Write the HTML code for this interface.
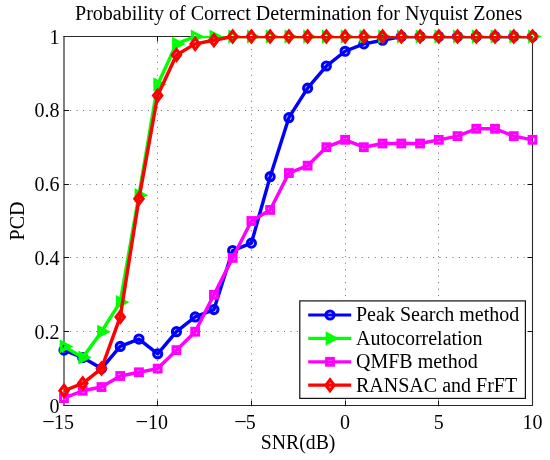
<!DOCTYPE html>
<html><head><meta charset="utf-8"><title>PCD plot</title><style>html,body{margin:0;padding:0;background:#fff}body{width:550px;height:460px;overflow:hidden}</style></head><body>
<svg width="550" height="460" viewBox="0 0 550 460" style="display:block">
<rect width="550" height="460" fill="#fff"/>
<g stroke="#6a6a6a" stroke-width="1" stroke-dasharray="1 5.478" fill="none"><line x1="157.5" y1="406.2" x2="157.5" y2="36.5"/><line x1="251.5" y1="406.2" x2="251.5" y2="36.5"/><line x1="345.5" y1="406.2" x2="345.5" y2="36.5"/><line x1="438.5" y1="406.2" x2="438.5" y2="36.5"/><line x1="63.7" y1="331.5" x2="532.5" y2="331.5"/><line x1="63.7" y1="257.5" x2="532.5" y2="257.5"/><line x1="63.7" y1="184.5" x2="532.5" y2="184.5"/><line x1="63.7" y1="110.5" x2="532.5" y2="110.5"/></g>
<g stroke="#2a2a2a" stroke-width="1.1" stroke-linecap="square"><line x1="64.0" y1="36.5" x2="64.0" y2="405.5" stroke-width="1.2"/><line x1="64.0" y1="36.5" x2="532.5" y2="36.5"/><line x1="532.5" y1="36.5" x2="532.5" y2="405.5"/><line x1="64.0" y1="405.5" x2="532.5" y2="405.5"/></g>
<g stroke="#111" stroke-width="1"><line x1="157.5" y1="405.5" x2="157.5" y2="400.5"/><line x1="157.5" y1="36.5" x2="157.5" y2="41.5"/><line x1="251.5" y1="405.5" x2="251.5" y2="400.5"/><line x1="251.5" y1="36.5" x2="251.5" y2="41.5"/><line x1="345.5" y1="405.5" x2="345.5" y2="400.5"/><line x1="345.5" y1="36.5" x2="345.5" y2="41.5"/><line x1="438.5" y1="405.5" x2="438.5" y2="400.5"/><line x1="438.5" y1="36.5" x2="438.5" y2="41.5"/><line x1="64.0" y1="331.5" x2="69.0" y2="331.5"/><line x1="532.5" y1="331.5" x2="527.5" y2="331.5"/><line x1="64.0" y1="257.5" x2="69.0" y2="257.5"/><line x1="532.5" y1="257.5" x2="527.5" y2="257.5"/><line x1="64.0" y1="184.5" x2="69.0" y2="184.5"/><line x1="532.5" y1="184.5" x2="527.5" y2="184.5"/><line x1="64.0" y1="110.5" x2="69.0" y2="110.5"/><line x1="532.5" y1="110.5" x2="527.5" y2="110.5"/></g>
<text x="42.20" y="428.5" font-family="'Liberation Serif', serif" font-size="22.4" fill="#000">−</text>
<text x="74.00" y="428.5" font-family="'Liberation Serif', serif" font-size="20" text-anchor="end" fill="#000">15</text>
<text x="135.40" y="428.5" font-family="'Liberation Serif', serif" font-size="22.4" fill="#000">−</text>
<text x="168.00" y="428.5" font-family="'Liberation Serif', serif" font-size="20" text-anchor="end" fill="#000">10</text>
<text x="234.20" y="428.5" font-family="'Liberation Serif', serif" font-size="22.4" fill="#000">−</text>
<text x="255.80" y="428.5" font-family="'Liberation Serif', serif" font-size="20" text-anchor="end" fill="#000">5</text>
<text x="345.10" y="428.5" font-family="'Liberation Serif', serif" font-size="20" text-anchor="middle" fill="#000">0</text>
<text x="438.80" y="428.5" font-family="'Liberation Serif', serif" font-size="20" text-anchor="middle" fill="#000">5</text>
<text x="532.50" y="428.5" font-family="'Liberation Serif', serif" font-size="20" text-anchor="middle" fill="#000">10</text>
<text x="59.5" y="412.50" font-family="'Liberation Serif', serif" font-size="20" text-anchor="end" fill="#000">0</text>
<text x="59.5" y="338.70" font-family="'Liberation Serif', serif" font-size="20" text-anchor="end" fill="#000">0.2</text>
<text x="59.5" y="264.90" font-family="'Liberation Serif', serif" font-size="20" text-anchor="end" fill="#000">0.4</text>
<text x="59.5" y="191.10" font-family="'Liberation Serif', serif" font-size="20" text-anchor="end" fill="#000">0.6</text>
<text x="59.5" y="117.30" font-family="'Liberation Serif', serif" font-size="20" text-anchor="end" fill="#000">0.8</text>
<text x="59.5" y="43.50" font-family="'Liberation Serif', serif" font-size="20" text-anchor="end" fill="#000">1</text>
<text x="75" y="20.4" font-family="'Liberation Serif', serif" font-size="20" textLength="447.3" lengthAdjust="spacingAndGlyphs" fill="#000">Probability of Correct Determination for Nyquist Zones</text>
<text x="260.8" y="449" font-family="'Liberation Serif', serif" font-size="20" textLength="74.6" lengthAdjust="spacingAndGlyphs" fill="#000">SNR(dB)</text>
<text transform="translate(24,221) rotate(-90)" font-family="'Liberation Serif', serif" font-size="20" text-anchor="middle" fill="#000">PCD</text>
<defs><clipPath id="ax"><rect x="63.5" y="36.0" width="469.5" height="370.0"/></clipPath></defs>
<polyline points="64.00,350.15 82.74,357.53 101.48,368.60 120.22,346.46 138.96,339.08 157.70,353.84 176.44,331.70 195.18,316.94 213.92,309.56 232.66,250.52 251.40,243.14 270.14,176.72 288.88,117.68 307.62,88.16 326.36,66.02 345.10,51.26 363.84,43.88 382.58,40.19 401.32,36.50 420.06,36.50 438.80,36.50 457.54,36.50 476.28,36.50 495.02,36.50 513.76,36.50 532.50,36.50" fill="none" stroke="#0000ff" stroke-width="3.45" stroke-linejoin="round" clip-path="url(#ax)"/>
<circle cx="64.00" cy="350.15" r="4.05" fill="none" stroke="#0000ff" stroke-width="3.1"/><circle cx="82.74" cy="357.53" r="4.05" fill="none" stroke="#0000ff" stroke-width="3.1"/><circle cx="101.48" cy="368.60" r="4.05" fill="none" stroke="#0000ff" stroke-width="3.1"/><circle cx="120.22" cy="346.46" r="4.05" fill="none" stroke="#0000ff" stroke-width="3.1"/><circle cx="138.96" cy="339.08" r="4.05" fill="none" stroke="#0000ff" stroke-width="3.1"/><circle cx="157.70" cy="353.84" r="4.05" fill="none" stroke="#0000ff" stroke-width="3.1"/><circle cx="176.44" cy="331.70" r="4.05" fill="none" stroke="#0000ff" stroke-width="3.1"/><circle cx="195.18" cy="316.94" r="4.05" fill="none" stroke="#0000ff" stroke-width="3.1"/><circle cx="213.92" cy="309.56" r="4.05" fill="none" stroke="#0000ff" stroke-width="3.1"/><circle cx="232.66" cy="250.52" r="4.05" fill="none" stroke="#0000ff" stroke-width="3.1"/><circle cx="251.40" cy="243.14" r="4.05" fill="none" stroke="#0000ff" stroke-width="3.1"/><circle cx="270.14" cy="176.72" r="4.05" fill="none" stroke="#0000ff" stroke-width="3.1"/><circle cx="288.88" cy="117.68" r="4.05" fill="none" stroke="#0000ff" stroke-width="3.1"/><circle cx="307.62" cy="88.16" r="4.05" fill="none" stroke="#0000ff" stroke-width="3.1"/><circle cx="326.36" cy="66.02" r="4.05" fill="none" stroke="#0000ff" stroke-width="3.1"/><circle cx="345.10" cy="51.26" r="4.05" fill="none" stroke="#0000ff" stroke-width="3.1"/><circle cx="363.84" cy="43.88" r="4.05" fill="none" stroke="#0000ff" stroke-width="3.1"/><circle cx="382.58" cy="40.19" r="4.05" fill="none" stroke="#0000ff" stroke-width="3.1"/><circle cx="401.32" cy="36.50" r="4.05" fill="none" stroke="#0000ff" stroke-width="3.1"/><circle cx="420.06" cy="36.50" r="4.05" fill="none" stroke="#0000ff" stroke-width="3.1"/><circle cx="438.80" cy="36.50" r="4.05" fill="none" stroke="#0000ff" stroke-width="3.1"/><circle cx="457.54" cy="36.50" r="4.05" fill="none" stroke="#0000ff" stroke-width="3.1"/><circle cx="476.28" cy="36.50" r="4.05" fill="none" stroke="#0000ff" stroke-width="3.1"/><circle cx="495.02" cy="36.50" r="4.05" fill="none" stroke="#0000ff" stroke-width="3.1"/><circle cx="513.76" cy="36.50" r="4.05" fill="none" stroke="#0000ff" stroke-width="3.1"/><circle cx="532.50" cy="36.50" r="4.05" fill="none" stroke="#0000ff" stroke-width="3.1"/>
<polyline points="64.00,346.46 82.74,357.53 101.48,331.70 120.22,302.18 138.96,195.17 157.70,84.47 176.44,43.88 195.18,36.50 213.92,36.50 232.66,36.50 251.40,36.50 270.14,36.50 288.88,36.50 307.62,36.50 326.36,36.50 345.10,36.50 363.84,36.50 382.58,36.50 401.32,36.50 420.06,36.50 438.80,36.50 457.54,36.50 476.28,36.50 495.02,36.50 513.76,36.50 532.50,36.50" fill="none" stroke="#00ff00" stroke-width="3.45" stroke-linejoin="round" clip-path="url(#ax)"/>
<polygon points="61.20,341.96 69.80,346.46 61.20,350.96" fill="none" stroke="#00ff00" stroke-width="3.1" stroke-linejoin="miter"/><polygon points="79.94,353.03 88.54,357.53 79.94,362.03" fill="none" stroke="#00ff00" stroke-width="3.1" stroke-linejoin="miter"/><polygon points="98.68,327.20 107.28,331.70 98.68,336.20" fill="none" stroke="#00ff00" stroke-width="3.1" stroke-linejoin="miter"/><polygon points="117.42,297.68 126.02,302.18 117.42,306.68" fill="none" stroke="#00ff00" stroke-width="3.1" stroke-linejoin="miter"/><polygon points="136.16,190.67 144.76,195.17 136.16,199.67" fill="none" stroke="#00ff00" stroke-width="3.1" stroke-linejoin="miter"/><polygon points="154.90,79.97 163.50,84.47 154.90,88.97" fill="none" stroke="#00ff00" stroke-width="3.1" stroke-linejoin="miter"/><polygon points="173.64,39.38 182.24,43.88 173.64,48.38" fill="none" stroke="#00ff00" stroke-width="3.1" stroke-linejoin="miter"/><polygon points="192.38,32.00 200.98,36.50 192.38,41.00" fill="none" stroke="#00ff00" stroke-width="3.1" stroke-linejoin="miter"/><polygon points="211.12,32.00 219.72,36.50 211.12,41.00" fill="none" stroke="#00ff00" stroke-width="3.1" stroke-linejoin="miter"/><polygon points="229.86,32.00 238.46,36.50 229.86,41.00" fill="none" stroke="#00ff00" stroke-width="3.1" stroke-linejoin="miter"/><polygon points="248.60,32.00 257.20,36.50 248.60,41.00" fill="none" stroke="#00ff00" stroke-width="3.1" stroke-linejoin="miter"/><polygon points="267.34,32.00 275.94,36.50 267.34,41.00" fill="none" stroke="#00ff00" stroke-width="3.1" stroke-linejoin="miter"/><polygon points="286.08,32.00 294.68,36.50 286.08,41.00" fill="none" stroke="#00ff00" stroke-width="3.1" stroke-linejoin="miter"/><polygon points="304.82,32.00 313.42,36.50 304.82,41.00" fill="none" stroke="#00ff00" stroke-width="3.1" stroke-linejoin="miter"/><polygon points="323.56,32.00 332.16,36.50 323.56,41.00" fill="none" stroke="#00ff00" stroke-width="3.1" stroke-linejoin="miter"/><polygon points="342.30,32.00 350.90,36.50 342.30,41.00" fill="none" stroke="#00ff00" stroke-width="3.1" stroke-linejoin="miter"/><polygon points="361.04,32.00 369.64,36.50 361.04,41.00" fill="none" stroke="#00ff00" stroke-width="3.1" stroke-linejoin="miter"/><polygon points="379.78,32.00 388.38,36.50 379.78,41.00" fill="none" stroke="#00ff00" stroke-width="3.1" stroke-linejoin="miter"/><polygon points="398.52,32.00 407.12,36.50 398.52,41.00" fill="none" stroke="#00ff00" stroke-width="3.1" stroke-linejoin="miter"/><polygon points="417.26,32.00 425.86,36.50 417.26,41.00" fill="none" stroke="#00ff00" stroke-width="3.1" stroke-linejoin="miter"/><polygon points="436.00,32.00 444.60,36.50 436.00,41.00" fill="none" stroke="#00ff00" stroke-width="3.1" stroke-linejoin="miter"/><polygon points="454.74,32.00 463.34,36.50 454.74,41.00" fill="none" stroke="#00ff00" stroke-width="3.1" stroke-linejoin="miter"/><polygon points="473.48,32.00 482.08,36.50 473.48,41.00" fill="none" stroke="#00ff00" stroke-width="3.1" stroke-linejoin="miter"/><polygon points="492.22,32.00 500.82,36.50 492.22,41.00" fill="none" stroke="#00ff00" stroke-width="3.1" stroke-linejoin="miter"/><polygon points="510.96,32.00 519.56,36.50 510.96,41.00" fill="none" stroke="#00ff00" stroke-width="3.1" stroke-linejoin="miter"/><polygon points="529.70,32.00 538.30,36.50 529.70,41.00" fill="none" stroke="#00ff00" stroke-width="3.1" stroke-linejoin="miter"/>
<polyline points="64.00,398.12 82.74,390.74 101.48,387.05 120.22,375.98 138.96,372.29 157.70,368.60 176.44,350.15 195.18,331.70 213.92,294.80 232.66,257.90 251.40,221.00 270.14,209.93 288.88,173.03 307.62,165.65 326.36,147.20 345.10,139.82 363.84,147.20 382.58,143.51 401.32,143.51 420.06,143.51 438.80,139.82 457.54,136.13 476.28,128.75 495.02,128.75 513.76,136.13 532.50,139.82" fill="none" stroke="#ff00ff" stroke-width="3.45" stroke-linejoin="round" clip-path="url(#ax)"/>
<rect x="60.65" y="394.77" width="6.7" height="6.7" fill="none" stroke="#ff00ff" stroke-width="3.1"/><rect x="79.39" y="387.39" width="6.7" height="6.7" fill="none" stroke="#ff00ff" stroke-width="3.1"/><rect x="98.13" y="383.70" width="6.7" height="6.7" fill="none" stroke="#ff00ff" stroke-width="3.1"/><rect x="116.87" y="372.63" width="6.7" height="6.7" fill="none" stroke="#ff00ff" stroke-width="3.1"/><rect x="135.61" y="368.94" width="6.7" height="6.7" fill="none" stroke="#ff00ff" stroke-width="3.1"/><rect x="154.35" y="365.25" width="6.7" height="6.7" fill="none" stroke="#ff00ff" stroke-width="3.1"/><rect x="173.09" y="346.80" width="6.7" height="6.7" fill="none" stroke="#ff00ff" stroke-width="3.1"/><rect x="191.83" y="328.35" width="6.7" height="6.7" fill="none" stroke="#ff00ff" stroke-width="3.1"/><rect x="210.57" y="291.45" width="6.7" height="6.7" fill="none" stroke="#ff00ff" stroke-width="3.1"/><rect x="229.31" y="254.55" width="6.7" height="6.7" fill="none" stroke="#ff00ff" stroke-width="3.1"/><rect x="248.05" y="217.65" width="6.7" height="6.7" fill="none" stroke="#ff00ff" stroke-width="3.1"/><rect x="266.79" y="206.58" width="6.7" height="6.7" fill="none" stroke="#ff00ff" stroke-width="3.1"/><rect x="285.53" y="169.68" width="6.7" height="6.7" fill="none" stroke="#ff00ff" stroke-width="3.1"/><rect x="304.27" y="162.30" width="6.7" height="6.7" fill="none" stroke="#ff00ff" stroke-width="3.1"/><rect x="323.01" y="143.85" width="6.7" height="6.7" fill="none" stroke="#ff00ff" stroke-width="3.1"/><rect x="341.75" y="136.47" width="6.7" height="6.7" fill="none" stroke="#ff00ff" stroke-width="3.1"/><rect x="360.49" y="143.85" width="6.7" height="6.7" fill="none" stroke="#ff00ff" stroke-width="3.1"/><rect x="379.23" y="140.16" width="6.7" height="6.7" fill="none" stroke="#ff00ff" stroke-width="3.1"/><rect x="397.97" y="140.16" width="6.7" height="6.7" fill="none" stroke="#ff00ff" stroke-width="3.1"/><rect x="416.71" y="140.16" width="6.7" height="6.7" fill="none" stroke="#ff00ff" stroke-width="3.1"/><rect x="435.45" y="136.47" width="6.7" height="6.7" fill="none" stroke="#ff00ff" stroke-width="3.1"/><rect x="454.19" y="132.78" width="6.7" height="6.7" fill="none" stroke="#ff00ff" stroke-width="3.1"/><rect x="472.93" y="125.40" width="6.7" height="6.7" fill="none" stroke="#ff00ff" stroke-width="3.1"/><rect x="491.67" y="125.40" width="6.7" height="6.7" fill="none" stroke="#ff00ff" stroke-width="3.1"/><rect x="510.41" y="132.78" width="6.7" height="6.7" fill="none" stroke="#ff00ff" stroke-width="3.1"/><rect x="529.15" y="136.47" width="6.7" height="6.7" fill="none" stroke="#ff00ff" stroke-width="3.1"/>
<polyline points="64.00,390.74 82.74,383.36 101.48,368.60 120.22,316.94 138.96,198.86 157.70,95.54 176.44,54.95 195.18,43.88 213.92,40.19 232.66,36.50 251.40,36.50 270.14,36.50 288.88,36.50 307.62,36.50 326.36,36.50 345.10,36.50 363.84,36.50 382.58,36.50 401.32,36.50 420.06,36.50 438.80,36.50 457.54,36.50 476.28,36.50 495.02,36.50 513.76,36.50 532.50,36.50" fill="none" stroke="#ff0000" stroke-width="3.45" stroke-linejoin="round" clip-path="url(#ax)"/>
<polygon points="64.00,385.29 68.15,390.74 64.00,396.19 59.85,390.74" fill="none" stroke="#ff0000" stroke-width="3.1" stroke-linejoin="miter"/><polygon points="82.74,377.91 86.89,383.36 82.74,388.81 78.59,383.36" fill="none" stroke="#ff0000" stroke-width="3.1" stroke-linejoin="miter"/><polygon points="101.48,363.15 105.63,368.60 101.48,374.05 97.33,368.60" fill="none" stroke="#ff0000" stroke-width="3.1" stroke-linejoin="miter"/><polygon points="120.22,311.49 124.37,316.94 120.22,322.39 116.07,316.94" fill="none" stroke="#ff0000" stroke-width="3.1" stroke-linejoin="miter"/><polygon points="138.96,193.41 143.11,198.86 138.96,204.31 134.81,198.86" fill="none" stroke="#ff0000" stroke-width="3.1" stroke-linejoin="miter"/><polygon points="157.70,90.09 161.85,95.54 157.70,100.99 153.55,95.54" fill="none" stroke="#ff0000" stroke-width="3.1" stroke-linejoin="miter"/><polygon points="176.44,49.50 180.59,54.95 176.44,60.40 172.29,54.95" fill="none" stroke="#ff0000" stroke-width="3.1" stroke-linejoin="miter"/><polygon points="195.18,38.43 199.33,43.88 195.18,49.33 191.03,43.88" fill="none" stroke="#ff0000" stroke-width="3.1" stroke-linejoin="miter"/><polygon points="213.92,34.74 218.07,40.19 213.92,45.64 209.77,40.19" fill="none" stroke="#ff0000" stroke-width="3.1" stroke-linejoin="miter"/><polygon points="232.66,31.05 236.81,36.50 232.66,41.95 228.51,36.50" fill="none" stroke="#ff0000" stroke-width="3.1" stroke-linejoin="miter"/><polygon points="251.40,31.05 255.55,36.50 251.40,41.95 247.25,36.50" fill="none" stroke="#ff0000" stroke-width="3.1" stroke-linejoin="miter"/><polygon points="270.14,31.05 274.29,36.50 270.14,41.95 265.99,36.50" fill="none" stroke="#ff0000" stroke-width="3.1" stroke-linejoin="miter"/><polygon points="288.88,31.05 293.03,36.50 288.88,41.95 284.73,36.50" fill="none" stroke="#ff0000" stroke-width="3.1" stroke-linejoin="miter"/><polygon points="307.62,31.05 311.77,36.50 307.62,41.95 303.47,36.50" fill="none" stroke="#ff0000" stroke-width="3.1" stroke-linejoin="miter"/><polygon points="326.36,31.05 330.51,36.50 326.36,41.95 322.21,36.50" fill="none" stroke="#ff0000" stroke-width="3.1" stroke-linejoin="miter"/><polygon points="345.10,31.05 349.25,36.50 345.10,41.95 340.95,36.50" fill="none" stroke="#ff0000" stroke-width="3.1" stroke-linejoin="miter"/><polygon points="363.84,31.05 367.99,36.50 363.84,41.95 359.69,36.50" fill="none" stroke="#ff0000" stroke-width="3.1" stroke-linejoin="miter"/><polygon points="382.58,31.05 386.73,36.50 382.58,41.95 378.43,36.50" fill="none" stroke="#ff0000" stroke-width="3.1" stroke-linejoin="miter"/><polygon points="401.32,31.05 405.47,36.50 401.32,41.95 397.17,36.50" fill="none" stroke="#ff0000" stroke-width="3.1" stroke-linejoin="miter"/><polygon points="420.06,31.05 424.21,36.50 420.06,41.95 415.91,36.50" fill="none" stroke="#ff0000" stroke-width="3.1" stroke-linejoin="miter"/><polygon points="438.80,31.05 442.95,36.50 438.80,41.95 434.65,36.50" fill="none" stroke="#ff0000" stroke-width="3.1" stroke-linejoin="miter"/><polygon points="457.54,31.05 461.69,36.50 457.54,41.95 453.39,36.50" fill="none" stroke="#ff0000" stroke-width="3.1" stroke-linejoin="miter"/><polygon points="476.28,31.05 480.43,36.50 476.28,41.95 472.13,36.50" fill="none" stroke="#ff0000" stroke-width="3.1" stroke-linejoin="miter"/><polygon points="495.02,31.05 499.17,36.50 495.02,41.95 490.87,36.50" fill="none" stroke="#ff0000" stroke-width="3.1" stroke-linejoin="miter"/><polygon points="513.76,31.05 517.91,36.50 513.76,41.95 509.61,36.50" fill="none" stroke="#ff0000" stroke-width="3.1" stroke-linejoin="miter"/><polygon points="532.50,31.05 536.65,36.50 532.50,41.95 528.35,36.50" fill="none" stroke="#ff0000" stroke-width="3.1" stroke-linejoin="miter"/>
<rect x="299.8" y="300.9" width="225.59999999999997" height="97.5" fill="#fff" stroke="#111" stroke-width="1.2"/>
<line x1="308.2" y1="315.0" x2="351.2" y2="315.0" stroke="#0000ff" stroke-width="3.2"/>
<circle cx="330.00" cy="315.00" r="4.05" fill="none" stroke="#0000ff" stroke-width="3.1"/>
<text x="356.0" y="321.30" font-family="'Liberation Serif', serif" font-size="20" fill="#000">Peak Search method</text>
<line x1="308.2" y1="338.4" x2="351.2" y2="338.4" stroke="#00ff00" stroke-width="3.2"/>
<polygon points="327.20,333.90 335.80,338.40 327.20,342.90" fill="none" stroke="#00ff00" stroke-width="3.1" stroke-linejoin="miter"/>
<text x="356.0" y="344.70" font-family="'Liberation Serif', serif" font-size="20" fill="#000">Autocorrelation</text>
<line x1="308.2" y1="361.8" x2="351.2" y2="361.8" stroke="#ff00ff" stroke-width="3.2"/>
<rect x="326.65" y="358.45" width="6.7" height="6.7" fill="none" stroke="#ff00ff" stroke-width="3.1"/>
<text x="356.0" y="368.10" font-family="'Liberation Serif', serif" font-size="20" fill="#000">QMFB method</text>
<line x1="308.2" y1="385.2" x2="351.2" y2="385.2" stroke="#ff0000" stroke-width="3.2"/>
<polygon points="330.00,379.75 334.15,385.20 330.00,390.65 325.85,385.20" fill="none" stroke="#ff0000" stroke-width="3.1" stroke-linejoin="miter"/>
<text x="356.0" y="391.50" font-family="'Liberation Serif', serif" font-size="20" fill="#000">RANSAC and FrFT</text>
</svg>
</body></html>
